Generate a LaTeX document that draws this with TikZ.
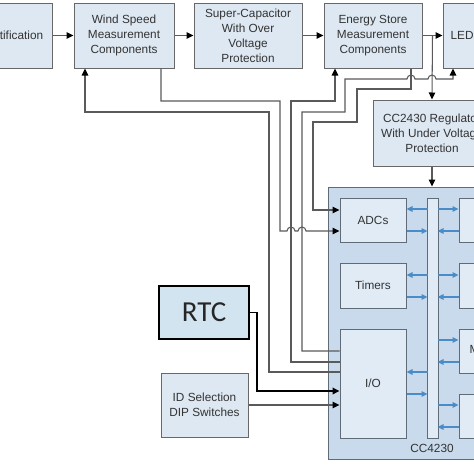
\documentclass[tikz,border=0pt]{standalone}
\usepackage{fontspec}
\setmainfont{Liberation Sans}
\newfontfamily\rtcfont{Carlito}
\usetikzlibrary{arrows.meta}
\definecolor{boxfill}{HTML}{DDE8F2}
\definecolor{boxline}{HTML}{686868}
\definecolor{chipfill}{HTML}{C8DAEB}
\definecolor{innerfill}{HTML}{E0EBF5}
\definecolor{innerline}{HTML}{5F6B77}
\definecolor{wirecol}{HTML}{5A5A5A}
\definecolor{buscol}{HTML}{4A8CC8}
\definecolor{txt}{HTML}{333333}
\definecolor{rtcfill}{HTML}{D3E4F1}
\begin{document}
\begin{tikzpicture}[x=1pt,y=-1pt,
  blk/.style={draw=boxline, fill=boxfill, line width=1pt, text=txt, align=center, inner sep=0pt, font=\fontsize{11.8}{15}\selectfont},
  inner/.style={draw=innerline, fill=innerfill, line width=1pt, text=txt, align=center, inner sep=0pt, font=\fontsize{11.8}{15}\selectfont},
  wire/.style={draw=wirecol, line width=1.05pt},
  arr/.style={wire, -{Triangle[length=7pt,width=6.5pt,color=black]}},
  barr/.style={draw=buscol, line width=1.1pt, -{Triangle[length=6pt,width=5.5pt]}},
  rtcwire/.style={draw=black, line width=1.8pt, -{Triangle[length=7pt,width=6.5pt]}},
]
\useasboundingbox (0,0) rectangle (474,474);
\clip (0,0) rectangle (474,474);
\fill[white] (0,0) rectangle (474,474);

% top row
\node[blk, minimum width=82pt, minimum height=65pt] (rect) at (11,35.5) {Rectification};
\node[blk, minimum width=100pt, minimum height=65pt] (wind) at (124,35.5) {Wind Speed\\Measurement\\Components};
\node[blk, minimum width=108pt, minimum height=65pt] (super) at (248,35.5) {Super-Capacitor\\With Over\\Voltage\\Protection};
\node[blk, minimum width=98pt, minimum height=65pt] (energy) at (373,35.5) {Energy Store\\Measurement\\Components};
\node[blk, minimum width=44pt, minimum height=65pt] (led) at (465,35.5) {LEDs};
\node[blk, minimum width=118pt, minimum height=66pt] (reg) at (432,133) {CC2430 Regulator\\With Under Voltage\\Protection};

% chip
\node[draw=innerline, fill=chipfill, line width=1pt, minimum width=192pt, minimum height=272pt, inner sep=0pt] (cc) at (424,323) {};
\node[text=txt, font=\fontsize{11.8}{15}\selectfont] (cclabel) at (432,448) {CC4230};
\node[inner, minimum width=66pt, minimum height=44pt] (adc) at (373,220) {ADCs};
\node[inner, minimum width=66pt, minimum height=45pt] (tim) at (373,285.5) {Timers};
\node[inner, minimum width=66pt, minimum height=109pt] (io) at (373,383.5) {I/O};
\node[inner, minimum width=11pt, minimum height=240pt] (bus) at (432.5,318) {};
\node[inner, minimum width=64pt, minimum height=44pt] (r1) at (491,220) {};
\node[inner, minimum width=64pt, minimum height=45pt] (r2) at (491,285.5) {};
\node[inner, minimum width=64pt, minimum height=44pt] (r3) at (491,351) {Memory};
\node[inner, minimum width=64pt, minimum height=44pt] (r4) at (491,416) {};

% left boxes
\node[draw=black, fill=rtcfill, line width=1.8pt, minimum width=90pt, minimum height=53pt, inner sep=0pt, text=black!85, font=\rtcfont\fontsize{29}{30}\selectfont] (rtc) at (204,312.5) {RTC};
\node[blk, minimum width=87pt, minimum height=64pt, font=\fontsize{11.8}{14.6}\selectfont] (id) at (204.5,405) {ID Selection\\DIP Switches};

% top row arrows
\draw[arr] (rect.east) -- (wind.west);
\draw[arr] (wind.east) -- (super.west);
\draw[arr] (super.east) -- (energy.west);
\draw[arr] (energy.east) -- (led.west);
\draw[arr] ([xshift=10pt]energy.east) -- (reg.north);
\draw[arr] (reg.south) -- (reg.south |- cc.north);

% wires
\draw[arr] ([xshift=37pt]wind.south) -- (161,101) -- (280,101) -- (280,231) -- (287,231)
  arc[start angle=180, end angle=0, radius=4pt] -- (298,231)
  arc[start angle=180, end angle=0, radius=4pt] -- ([yshift=-11pt]adc.west);
\draw[arr] ([xshift=38pt]energy.south) -- (411,89) -- (357,89) -- (357,122) -- (313,122) -- (313,210) -- ([yshift=10pt]adc.west);
\draw[arr] ([yshift=11.5pt]io.west) -- (269,372) -- (269,112) -- (85,112) -- ([xshift=-39pt]wind.south);
\draw[arr] ([yshift=21.5pt]io.west) -- (291,362) -- (291,101) -- (335,101) -- ([xshift=-38pt]energy.south);
\draw[arr] ([yshift=32.5pt]io.west) -- (302,351) -- (302,112) -- (345,112) -- (345,79) -- (407,79)
  arc[start angle=180, end angle=0, radius=4pt] -- (428,79)
  arc[start angle=180, end angle=0, radius=4pt] -- (453,79) -- ([xshift=-12pt]led.south);
\draw[rtcwire] (rtc.east) -- (257,312.5) -- (257,391) -- ([yshift=-7.5pt]io.west);
\draw[arr] (id.east) -- ([yshift=-21.5pt]io.west);

% bus arrows, left side
\foreach \n/\up/\dn in {adc/11/-11, tim/10.5/-11.5, io/11.5/-10.5} {
  \draw[barr] ([shift={(21pt,\up pt)}]\n.east) -- ([yshift=\up pt]\n.east);
  \draw[barr] ([yshift=\dn pt]\n.east) -- ([shift={(21pt,\dn pt)}]\n.east);
}
% bus arrows, right side
\foreach \n/\up/\dn in {r1/11/-11, r2/10.5/-11.5, r3/11/-11, r4/11/-11} {
  \draw[barr] ([shift={(-21pt,\up pt)}]\n.west) -- ([yshift=\up pt]\n.west);
  \draw[barr] ([yshift=\dn pt]\n.west) -- ([shift={(-21pt,\dn pt)}]\n.west);
}
\end{tikzpicture}
\end{document}
